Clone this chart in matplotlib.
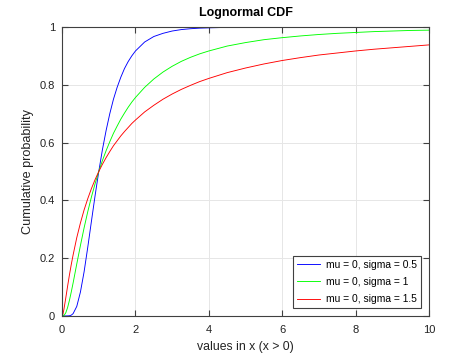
import matplotlib
matplotlib.use('Agg')
import matplotlib.pyplot as plt

plt.rcParams['font.family'] = ['Liberation Sans', 'DejaVu Sans']

# ===== data =====
x = [0, 0.02, 0.05, 0.1, 0.15, 0.2, 0.25, 0.3, 0.4, 0.5, 0.6, 0.7, 0.8, 0.9, 1.0,
     1.1, 1.2, 1.3, 1.4, 1.5, 1.6, 1.7, 1.8, 1.9, 2.0,
     2.25, 2.5, 2.75, 3.0, 3.25, 3.5, 3.75, 4.0, 4.5, 5.0, 5.5, 6.0, 6.5, 7.0,
     7.5, 8.0, 8.5, 9.0, 9.5, 10.0]

cdf_s05 = [0, 0, 0, 0, 0.0001, 0.0006, 0.0028, 0.008, 0.033, 0.083, 0.153, 0.238, 0.328, 0.417, 0.5,
           0.576, 0.642, 0.700, 0.750, 0.791, 0.826, 0.856, 0.880, 0.900, 0.917,
           0.948, 0.967, 0.978, 0.986, 0.991, 0.994, 0.996, 0.997, 0.9987, 0.9994, 0.9997, 0.9999, 1.0, 1.0,
           1.0, 1.0, 1.0, 1.0, 1.0, 1.0]

cdf_s1 = [0, 0.0001, 0.0014, 0.0107, 0.029, 0.054, 0.083, 0.114, 0.180, 0.244, 0.305, 0.361, 0.412, 0.458, 0.5,
          0.538, 0.572, 0.603, 0.632, 0.657, 0.681, 0.702, 0.722, 0.740, 0.756,
          0.791, 0.820, 0.844, 0.864, 0.881, 0.895, 0.907, 0.917, 0.934, 0.946, 0.956, 0.963, 0.969, 0.974,
          0.978, 0.981, 0.984, 0.986, 0.988, 0.989]

cdf_s15 = [0, 0.0046, 0.023, 0.062, 0.103, 0.142, 0.178, 0.211, 0.271, 0.322, 0.367, 0.406, 0.441, 0.472, 0.5,
           0.525, 0.548, 0.569, 0.589, 0.606, 0.623, 0.638, 0.652, 0.666, 0.678,
           0.706, 0.729, 0.750, 0.768, 0.784, 0.798, 0.811, 0.822, 0.842, 0.858, 0.872, 0.884, 0.894, 0.903,
           0.910, 0.917, 0.923, 0.928, 0.933, 0.938]

labels = ['mu = 0, sigma = 0.5', 'mu = 0, sigma = 1', 'mu = 0, sigma = 1.5']

# ===== plot =====
fig = plt.figure(figsize=(4.74, 3.55), dpi=100)
ax = fig.add_axes([0.131, 0.110, 0.774, 0.814])

ax.plot(x, cdf_s05, color='#0000ff', lw=0.65, label=labels[0])
ax.plot(x, cdf_s1, color='#00ff00', lw=0.65, label=labels[1])
ax.plot(x, cdf_s15, color='#ff0000', lw=0.65, label=labels[2])

ax.set_xlim(0, 10)
ax.set_ylim(0, 1)
ax.set_xticks([0, 2, 4, 6, 8, 10])
ax.set_yticks([0, 0.2, 0.4, 0.6, 0.8, 1])
ax.set_yticklabels(['0', '0.2', '0.4', '0.6', '0.8', '1'])

ax.grid(True, color='#e6e6e6', lw=0.7)
ax.set_axisbelow(True)
for s in ax.spines.values():
    s.set_color('#404040')
    s.set_linewidth(0.8)
ax.tick_params(direction='in', top=True, right=True, length=4,
               color='#404040', labelsize=8, labelcolor='#222222')
ax.tick_params(axis='x', pad=6.5)
ax.tick_params(axis='y', pad=5)

ax.set_xlabel('values in x (x > 0)', fontsize=8.8, color='#222222', labelpad=4)
ax.set_ylabel('Cumulative probability', fontsize=9.1, color='#222222', labelpad=4)
ax.set_title('Lognormal CDF', fontsize=9, fontweight='bold', pad=8)

leg = ax.legend(loc='lower right', fontsize=7.4, fancybox=False, framealpha=1,
                edgecolor='#404040', handlelength=2.2, handletextpad=0.6,
                labelspacing=0.7, borderaxespad=0.75)
leg.get_frame().set_linewidth(0.8)

fig.savefig('out.png', dpi=100)
